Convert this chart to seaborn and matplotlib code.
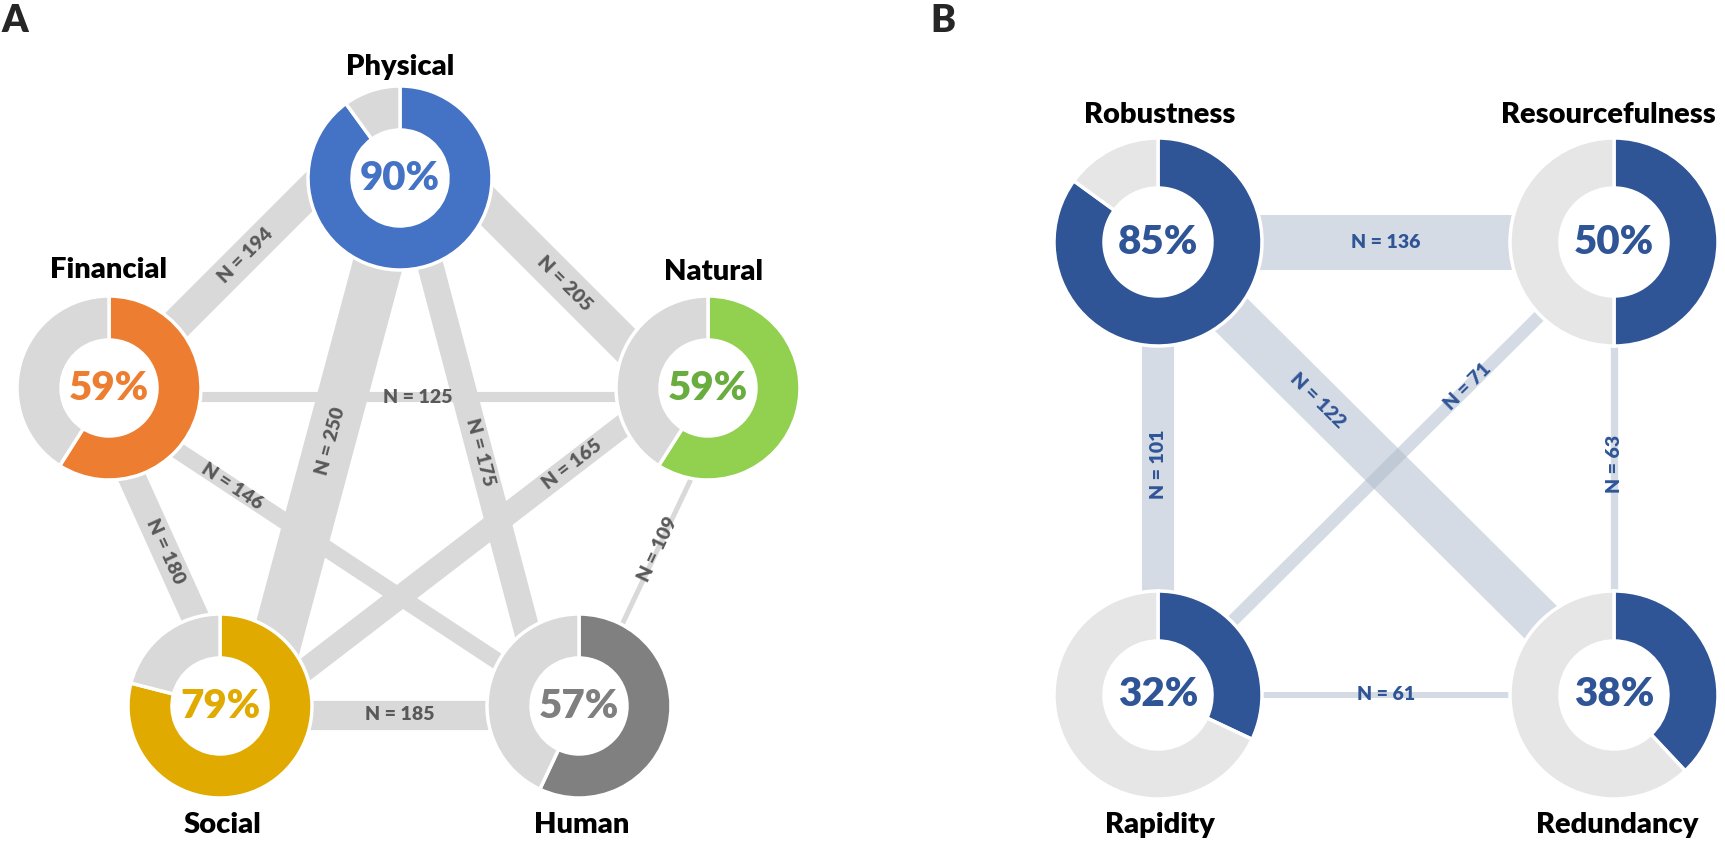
import numpy as np
import pandas as pd
import seaborn as sns
import matplotlib.pyplot as plt
from matplotlib import font_manager
from matplotlib.patches import Circle

W, H = 1725, 841
DPI = 100

# ---- panel A: capitals ----
cap_names = ['Physical', 'Financial', 'Natural', 'Social', 'Human']
cap_pct = [90, 59, 59, 79, 57]
cap_edge_from = ['Financial', 'Physical', 'Financial', 'Physical', 'Physical',
                 'Natural', 'Financial', 'Financial', 'Social', 'Natural']
cap_edge_to = ['Physical', 'Natural', 'Natural', 'Social', 'Human',
               'Social', 'Human', 'Social', 'Human', 'Human']
cap_edge_n = [194, 205, 125, 250, 175, 165, 146, 180, 185, 109]

# ---- panel B: resilience properties ----
prop_names = ['Robustness', 'Resourcefulness', 'Rapidity', 'Redundancy']
prop_pct = [85, 50, 32, 38]
prop_edge_from = ['Robustness', 'Robustness', 'Robustness',
                  'Resourcefulness', 'Resourcefulness', 'Rapidity']
prop_edge_to = ['Resourcefulness', 'Rapidity', 'Redundancy',
                'Rapidity', 'Redundancy', 'Redundancy']
prop_edge_n = [136, 101, 122, 71, 63, 61]

# layout, in pixels from the top-left corner
cap_xy = {'Physical': (400, 178), 'Financial': (109, 388), 'Natural': (708, 388),
          'Social': (220, 706), 'Human': (579, 706)}
cap_label_xy = {'Physical': (400, 67), 'Financial': (108, 270), 'Natural': (713, 272),
                'Social': (222, 825), 'Human': (582, 825)}
cap_color = {'Physical': '#4472C4', 'Financial': '#ED7D31', 'Natural': '#92D050',
             'Social': '#E0AA00', 'Human': '#808080'}
cap_text_color = {'Physical': '#4472C4', 'Financial': '#ED7D31', 'Natural': '#6AAD3F',
                  'Social': '#E0AA00', 'Human': '#7F7F7F'}
# bars in A were drawn by hand, they don't run centre to centre
cap_edge_ends = [((150, 351), (330, 171)), ((455, 174), (650, 369)),
                 ((160, 397), (655, 397)), ((387, 230), (269, 670)),
                 ((421, 230), (532, 650)), ((650, 405), (280, 689)),
                 ((160, 439), (520, 676)), ((115, 440), (210, 650)),
                 ((280, 715), (520, 715)), ((700, 460), (610, 650))]
cap_label_t = [0.53, 0.56, 0.52, 0.48, 0.53, 0.21, 0.20, 0.53, 0.5, 0.47]

prop_xy = {'Robustness': (1158, 242), 'Resourcefulness': (1614, 242),
           'Rapidity': (1158, 695), 'Redundancy': (1614, 695)}
prop_label_xy = {'Robustness': (1160, 115), 'Resourcefulness': (1608, 115),
                 'Rapidity': (1160, 825), 'Redundancy': (1617, 825)}
prop_label_t = [0.5, 0.49, 0.35, 0.32, 0.49, 0.5]

sns.set_theme(style='white')
avail = {f.name for f in font_manager.fontManager.ttflist}
font = 'DejaVu Sans'
for fam in ['Lato', 'Liberation Sans Narrow', 'Liberation Sans']:
    if fam in avail:
        font = fam
        break
plt.rcParams['font.family'] = [font, 'DejaVu Sans']
WEIGHT = 'heavy'


def fy(y):
    return H - y


def px2pt(p):
    return p * 72 / DPI


def draw_edges(ax, ends, ns, color, alpha, sizes_px, label_t, label_color):
    rows = []
    for i, ((x0, y0), (x1, y1)) in enumerate(ends):
        rows.append({'edge': i, 'x': x0, 'y': fy(y0), 'N': ns[i]})
        rows.append({'edge': i, 'x': x1, 'y': fy(y1), 'N': ns[i]})
    df = pd.DataFrame(rows)
    sns.lineplot(data=df, x='x', y='y', units='edge', estimator=None, size='N',
                 sizes=(px2pt(sizes_px[0]), px2pt(sizes_px[1])), color=color,
                 alpha=alpha, sort=False, legend=False, ax=ax, solid_capstyle='butt')
    for i, ((x0, y0), (x1, y1)) in enumerate(ends):
        t = label_t[i]
        lx, ly = x0 + t * (x1 - x0), y0 + t * (y1 - y0)
        ang = np.degrees(np.arctan2(-(y1 - y0), x1 - x0))
        if ang > 90:
            ang -= 180
        elif ang <= -90:
            ang += 180
        ax.text(lx, fy(ly), f'N = {ns[i]}', rotation=ang, rotation_mode='anchor',
                ha='center', va='center', fontsize=14, fontweight=WEIGHT,
                color=label_color, zorder=4)


def donut(ax, x, y, pct, color, rest, r, r_in, text_color):
    ax.pie([pct, 100 - pct], colors=[color, rest], startangle=90, counterclock=False,
           center=(x, fy(y)), radius=r, frame=True,
           wedgeprops=dict(width=r - r_in, edgecolor='white', linewidth=2.5, zorder=3))
    ax.add_patch(Circle((x, fy(y)), r_in, facecolor='white', edgecolor='none', zorder=3.2))
    ax.text(x, fy(y), f'{pct}%', ha='center', va='center', fontsize=29,
            fontweight=WEIGHT, color=text_color, zorder=5)


fig = plt.figure(figsize=(W / DPI, H / DPI), dpi=DPI)
ax = fig.add_axes([0, 0, 1, 1])

# panel A
draw_edges(ax, cap_edge_ends, cap_edge_n, '#D9D9D9', 1.0, (5, 50), cap_label_t, '#595959')
for name, p in zip(cap_names, cap_pct):
    x, y = cap_xy[name]
    donut(ax, x, y, p, cap_color[name], '#D9D9D9', 92, 48, cap_text_color[name])
    lx, ly = cap_label_xy[name]
    ax.text(lx, fy(ly), name, ha='center', va='center', fontsize=21,
            fontweight=WEIGHT, color='black', zorder=5)

# panel B
prop_ends = [(prop_xy[a], prop_xy[b]) for a, b in zip(prop_edge_from, prop_edge_to)]
draw_edges(ax, prop_ends, prop_edge_n, '#ADB9CA', 0.5, (6, 55), prop_label_t, '#2F5597')
for name, p in zip(prop_names, prop_pct):
    x, y = prop_xy[name]
    donut(ax, x, y, p, '#2F5597', '#E7E6E6', 104, 54, '#2F5597')
    lx, ly = prop_label_xy[name]
    ax.text(lx, fy(ly), name, ha='center', va='center', fontsize=21,
            fontweight=WEIGHT, color='black', zorder=5)

ax.text(15, fy(21), 'A', ha='center', va='center', fontsize=27, fontweight=WEIGHT)
ax.text(943, fy(21), 'B', ha='center', va='center', fontsize=27, fontweight=WEIGHT)

ax.set_xlim(0, W)
ax.set_ylim(0, H)
ax.set_aspect('auto')
ax.axis('off')

fig.savefig('out.png', dpi=DPI)
